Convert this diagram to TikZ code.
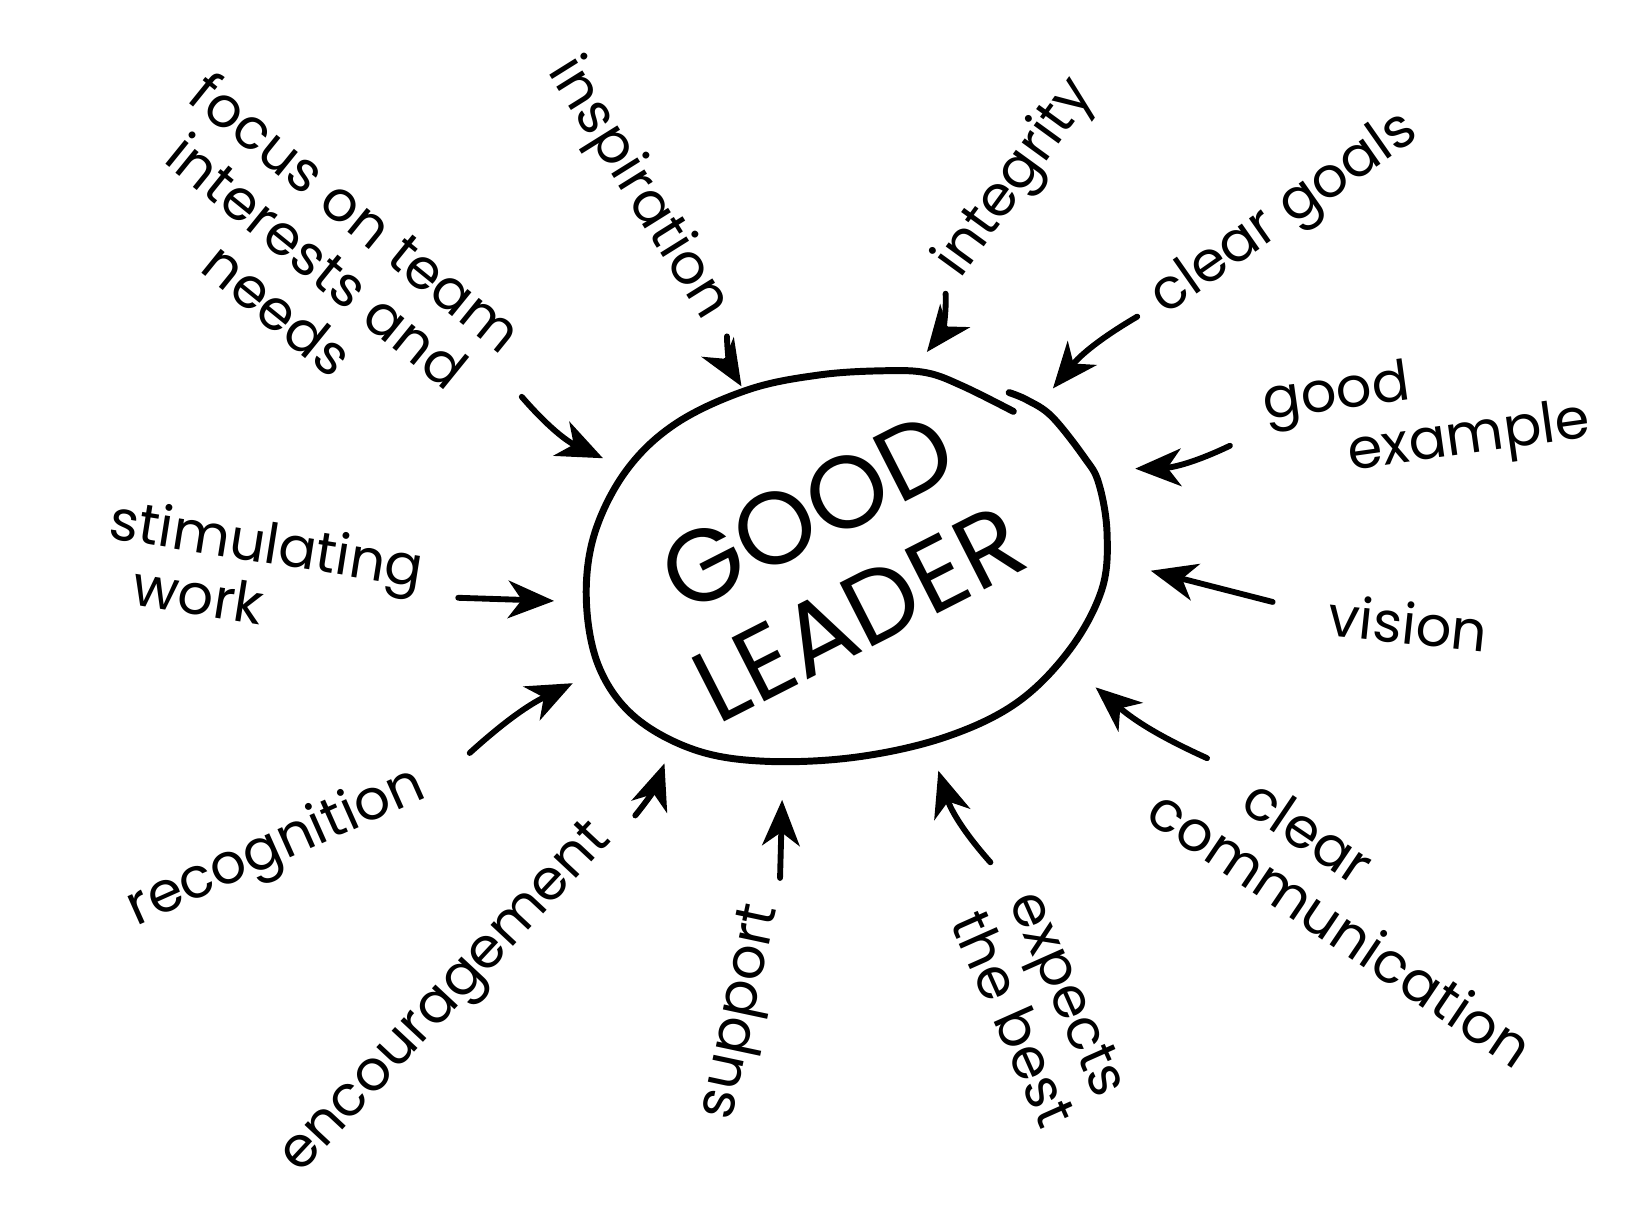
\documentclass[tikz,border=0pt]{standalone}
\usepackage{fontspec}
\setmainfont{Poppins}
\usetikzlibrary{arrows.meta}
\tikzset{
  font=\fontsize{15.3}{17}\selectfont,
  lbl/.style={
    align=center,
    inner sep=0pt
  },
  lblleft/.style={
    align=left,
    inner sep=0pt
  },
  title/.style={
    align=center,
    inner sep=0pt,
    font=\fontsize{28}{31}\selectfont
  },
  outline/.style={line width=1.9pt, line cap=round, line join=round},
  arrow/.style={-{Stealth[length=4.4mm,width=3.6mm,inset=1.3mm]}, line width=1.6pt, line cap=round}
}

\begin{document}
\begin{tikzpicture}[x=0.01cm, y=-0.01cm]
\useasboundingbox (0,0) rectangle (1568,1176);

% Centre
\draw[outline] plot[smooth, tension=0.6] coordinates {(969,377) (986,384) (1010,400) (1041,439) (1055,464) (1063,512) (1058,566) (1027,624) (976,675) (907,708) (822,727) (735,731) (667,720) (609,688) (575,640) (563,576) (571,512) (602,451) (650,406) (719,374) (787,360) (849,356) (890,358) (925,371) (973,395)};
\node[title, rotate=27] (leader) at (800,540) {GOOD\\LEADER};

% Qualities
\node[lbl, rotate=-39] (focus) at (305,250) {focus on team\\interests and\\needs};
\node[lbl, rotate=-58] (insp) at (612,182) {inspiration};
\node[lbl, rotate=54] (integ) at (976,172) {integrity};
\node[lbl, rotate=35] (goals) at (1234,207) {clear goals};
\node[lblleft, rotate=8] (example) at (1370,398) {good\\\hspace{21pt}example};
\node[lbl, rotate=-6] (vision) at (1352,598) {vision};
\node[lblleft, rotate=-34] (comm) at (1304,866) {\hspace{20pt}clear\\communication};
\node[lbl, rotate=-66] (expects) at (1000,966) {expects\\the best};
\node[lbl, rotate=78] (support) at (713,972) {support};
\node[lbl, rotate=47] (encour) at (430,960) {encouragement};
\node[lbl, rotate=24] (recog) at (266,815) {recognition};
\node[lblleft, rotate=-9] (stim) at (252,550) {stimulating\\\hspace{9pt}work};

% Arrow ends
\coordinate (focus-s) at (501,381);   \coordinate (focus-t) at (579,440);
\coordinate (insp-s) at (698,323);    \coordinate (insp-t) at (712,371);
\coordinate (integ-s) at (908,282);   \coordinate (integ-t) at (890,338);
\coordinate (goals-s) at (1092,304);  \coordinate (goals-t) at (1011,373);
\coordinate (example-s) at (1181,428); \coordinate (example-t) at (1090,450);
\coordinate (vision-s) at (1222,578); \coordinate (vision-t) at (1105,548);
\coordinate (comm-s) at (1159,728);   \coordinate (comm-t) at (1052,660);
\coordinate (expects-s) at (951,828); \coordinate (expects-t) at (901,740);
\coordinate (support-s) at (749,843); \coordinate (support-t) at (751,768);
\coordinate (encour-s) at (610,783);  \coordinate (encour-t) at (638,733);
\coordinate (recog-s) at (451,723);   \coordinate (recog-t) at (550,656);
\coordinate (stim-s) at (440,574);    \coordinate (stim-t) at (532,577);

\draw[arrow] (focus-s) to[bend right=12] (focus-t);
\draw[arrow] (insp-s) to[bend right=15] (insp-t);
\draw[arrow] (integ-s) to[bend left=20] (integ-t);
\draw[arrow] (goals-s) to[bend right=10] (goals-t);
\draw[arrow] (example-s) to[bend left=12] (example-t);
\draw[arrow] (vision-s) -- (vision-t);
\draw[arrow] (comm-s) to[bend left=8] (comm-t);
\draw[arrow] (expects-s) to[bend left=12] (expects-t);
\draw[arrow] (support-s) -- (support-t);
\draw[arrow] (encour-s) to[bend right=10] (encour-t);
\draw[arrow] (recog-s) to[bend left=8] (recog-t);
\draw[arrow] (stim-s) -- (stim-t);

\end{tikzpicture}
\end{document}
